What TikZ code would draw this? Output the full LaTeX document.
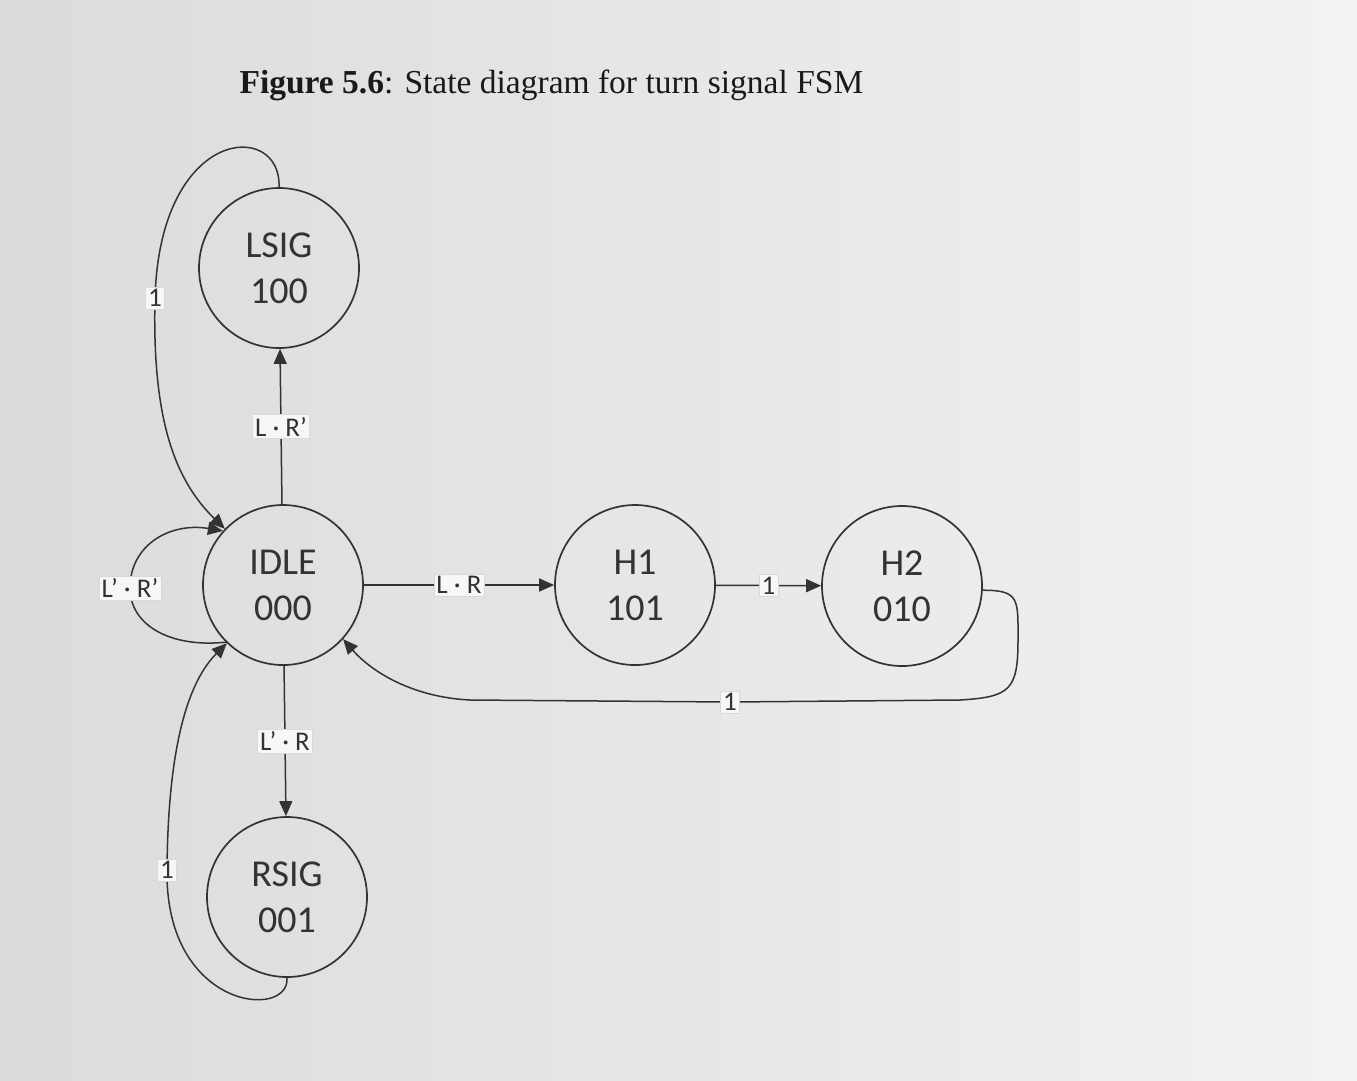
\documentclass[tikz,border=0pt]{standalone}
\usepackage{fontspec}
\setmainfont{Liberation Serif}
\newfontfamily\statefont{Carlito}
\usetikzlibrary{arrows.meta}
\definecolor{ink}{HTML}{333333}
\begin{document}
\begin{tikzpicture}[x=1pt,y=-1pt,
  state/.style={circle,draw=ink,line width=1.7pt,minimum size=160pt,inner sep=0pt,
    align=center,text=ink,font=\statefont\fontsize{38}{46}\selectfont},
  arr/.style={draw=ink,line width=1.5pt,-{Triangle[length=15pt,width=13pt]}},
  lbl/.style={fill=gray!6,draw=gray!30,line width=0.5pt,inner sep=2.5pt,text=ink,
    font=\statefont\fontsize{27}{30}\selectfont}]
\useasboundingbox (0,0) rectangle (1357,1080);
\shade[left color=gray!28,right color=gray!10] (0,0) rectangle (1357,1080);
\node[anchor=base west,text=black!90,font=\fontsize{33.5}{38}\selectfont] (title) at (236,93)
  {\textbf{Figure 5.6}: State diagram for turn signal FSM};
\node[state] (lsig) at (279,268) {LSIG\\100};
\node[state] (idle) at (283,585) {IDLE\\000};
\node[state] (h1) at (635,585) {H1\\101};
\node[state] (h2) at (902,586) {H2\\010};
\node[state] (rsig) at (287,897) {RSIG\\001};
\draw[arr] (idle) -- node[lbl]{L · R’} (lsig);
\draw[arr] (idle) -- node[lbl]{L · R} (h1);
\draw[arr] (h1) -- node[lbl]{1} (h2);
\draw[arr] (idle) -- node[lbl]{L’ · R} (rsig);
\draw[arr] (idle.225) .. controls (170,648) and (130,625) .. (130,588) node[lbl]{L’ · R’}
  .. controls (130,545) and (170,522) .. (idle.138);
\draw[arr] (lsig.north) .. controls (282,120) and (160,125) .. (155,298) node[lbl]{1}
  .. controls (152,420) and (175,480) .. (idle.136);
\draw[arr] (rsig.south) .. controls (290,1020) and (165,1010) .. (167,870) node[lbl]{1}
  .. controls (168,740) and (190,680) .. (idle.226);
\draw[arr] (h2.-3) .. controls (1020,590) and (1018,600) .. (1018,640)
  .. controls (1018,690) and (1010,697) .. (960,700) -- (730,702) node[lbl]{1}
  -- (470,700) .. controls (410,697) and (370,670) .. (idle.-42);
\end{tikzpicture}
\end{document}
